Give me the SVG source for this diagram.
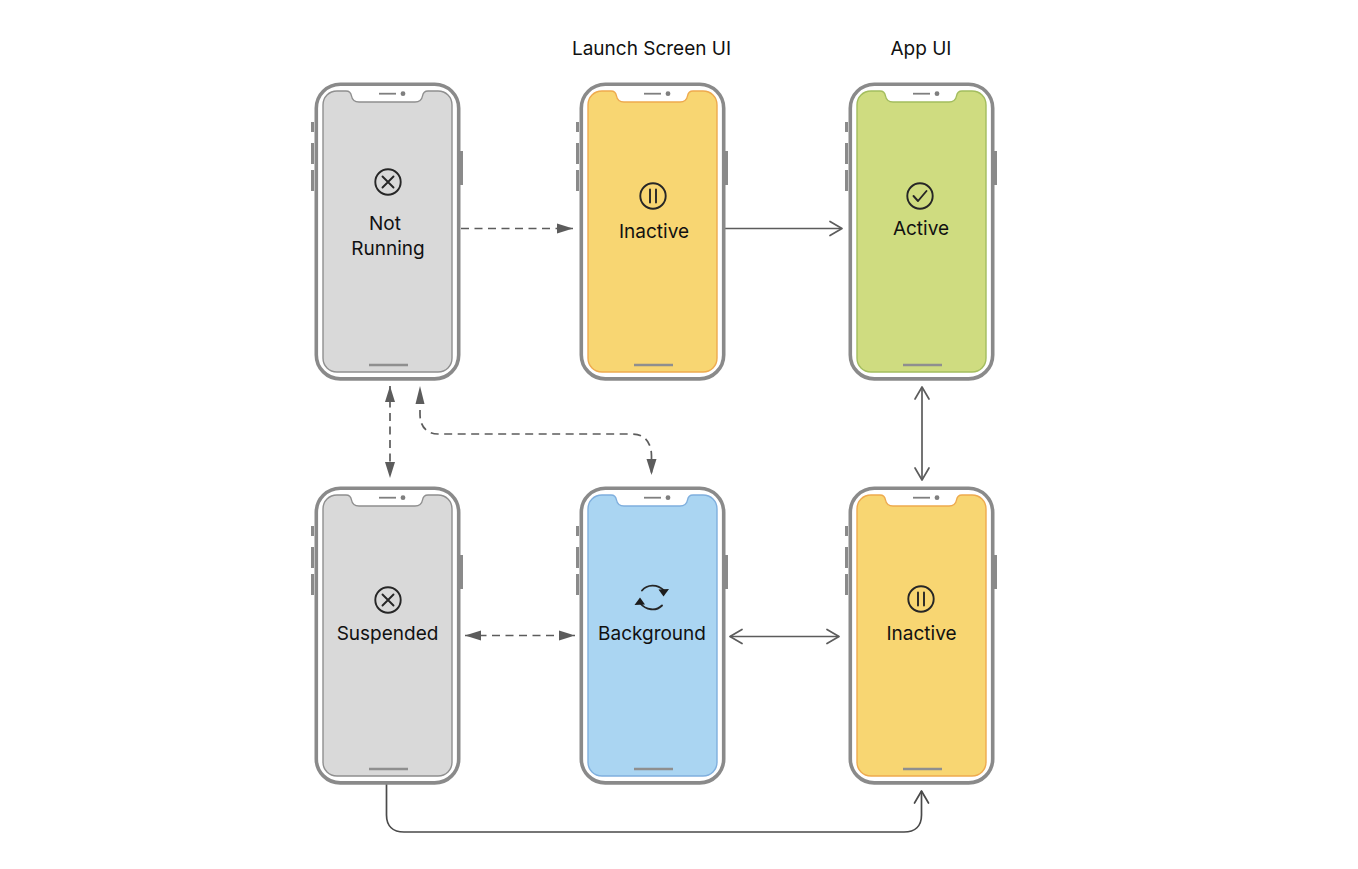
<svg xmlns="http://www.w3.org/2000/svg" xmlns:xlink="http://www.w3.org/1999/xlink" width="1358" height="869" viewBox="0 0 1358 869">
  <style>
    text { font-family: "Inter", "Liberation Sans", sans-serif; font-size: 19px; fill: #111; text-anchor: middle; }
    .frame { fill: #fff; stroke: #8a8a8a; stroke-width: 3.6; }
    .btn { fill: #8a8a8a; }
    .bar { stroke: #8f8f8f; stroke-width: 2.4; fill: none; }
    .speaker { stroke: #7f7f7f; stroke-width: 1.8; fill: none; }
    .cam { fill: #7f7f7f; }
    .gray { fill: #d9d9d9; stroke: #8f8f8f; stroke-width: 1.4; }
    .yellow { fill: #f8d672; stroke: #eeaa4e; stroke-width: 1.4; }
    .green { fill: #cfdc80; stroke: #a3bd5e; stroke-width: 1.4; }
    .blue { fill: #aad5f2; stroke: #7fafde; stroke-width: 1.4; }
    .icon { fill: none; stroke: #262626; stroke-width: 1.9; stroke-linecap: round; stroke-linejoin: round; }
    .solid { fill: none; stroke: #5c5c5c; stroke-width: 1.7; }
    .dashed { fill: none; stroke: #5c5c5c; stroke-width: 1.7; stroke-dasharray: 8 5.5; }
    .open { fill: none; stroke: #5c5c5c; stroke-width: 1.7; stroke-linecap: round; stroke-linejoin: round; }
  </style>
  <defs>
    <marker id="tri" markerUnits="userSpaceOnUse" markerWidth="18" markerHeight="12" refX="16" refY="5" orient="auto-start-reverse" viewBox="0 0 18 10">
      <path d="M0 0L16 5L0 10Z" fill="#5c5c5c"/>
    </marker>
    <g id="body">
      <rect class="btn" x="-4" y="39" width="3" height="10"/>
      <rect class="btn" x="-4" y="60" width="3" height="21"/>
      <rect class="btn" x="-4" y="87" width="3" height="21"/>
      <rect class="btn" x="145" y="68" width="3" height="34"/>
      <rect class="frame" x="1.3" y="1.3" width="142.4" height="294.6" rx="24" ry="24"/>
    </g>
    <path id="screen" d="M22 8H31C35 8 36 10 36.500 13C37.200 17 39 19 44 19H100C105 19 106.800 17 107.500 13C108 10 109 8 113 8H123C131 8 137 14 137 22V275C137 283 131 289 123 289H22C14 289 8 283 8 275V22C8 14 14 8 22 8Z"/>
    <g id="details">
      <path class="speaker" d="M64 10.700H81"/>
      <circle class="cam" cx="88" cy="10.700" r="2.400"/>
      <path class="bar" d="M54 282H93"/>
    </g>
    <g id="icon-x">
      <circle class="icon" cx="0" cy="0" r="12.700"/>
      <path class="icon" d="M-5.500 -5.500L5.500 5.500M5.500 -5.500L-5.500 5.500"/>
    </g>
    <g id="icon-pause">
      <circle class="icon" cx="0" cy="0" r="12.700"/>
      <path class="icon" d="M-3 -6.500V6.500M3 -6.500V6.500"/>
    </g>
  </defs>

  <text x="651.500" y="55">Launch Screen UI</text>
  <text x="921" y="55">App UI</text>

  <g id="connectors">
    <path class="dashed" marker-end="url(#tri)" d="M461 228.500H573"/>
    <path class="solid" d="M725 228.500H841"/>
    <path class="open" d="M830 221.500L842 228.500L830 235.500"/>
    <path class="dashed" marker-start="url(#tri)" marker-end="url(#tri)" d="M390 386V478"/>
    <path class="dashed" marker-end="url(#tri)" d="M420 410V414C420 428 428 434 438 434H632C644 434 651.500 442 651.500 456V475" />
    <path d="M420 386L424.500 404H415.500Z" fill="#5c5c5c"/>
    <path class="solid" d="M922 387V480"/>
    <path class="open" d="M915 399L922 387L929 399M915 468L922 480L929 468"/>
    <path class="dashed" marker-start="url(#tri)" marker-end="url(#tri)" d="M465 635.500H575"/>
    <path class="solid" d="M730 636.500H839"/>
    <path class="open" d="M742 629.500L730 636.500L742 643.500M827 629.500L839 636.500L827 643.500"/>
    <path class="solid" style="stroke:#4a4a4a" d="M386.500 783V815C386.500 826 393 832 404 832H904C915 832 921.500 826 921.500 815V791"/>
    <path class="open" style="stroke:#4a4a4a" d="M914.500 803L921.500 791L928.500 803"/>
  </g>

  <g id="not-running" transform="translate(315 83)">
    <use xlink:href="#body" href="#body"/>
    <use xlink:href="#screen" href="#screen" class="gray"/>
    <use xlink:href="#details" href="#details"/>
    <use xlink:href="#icon-x" href="#icon-x" x="73" y="99"/>
    <text x="70" y="147">Not</text>
    <text x="73" y="171.500">Running</text>
  </g>

  <g id="launch-inactive" transform="translate(580 83)">
    <use xlink:href="#body" href="#body"/>
    <use xlink:href="#screen" href="#screen" class="yellow"/>
    <use xlink:href="#details" href="#details"/>
    <use xlink:href="#icon-pause" href="#icon-pause" x="73" y="113"/>
    <text x="74" y="155">Inactive</text>
  </g>

  <g id="active" transform="translate(849 83)">
    <use xlink:href="#body" href="#body"/>
    <use xlink:href="#screen" href="#screen" class="green"/>
    <use xlink:href="#details" href="#details"/>
    <circle class="icon" cx="71" cy="113" r="12.700"/>
    <path class="icon" d="M64.500 113L69 118L77.500 108"/>
    <text x="72" y="152">Active</text>
  </g>

  <g id="suspended" transform="translate(315 487)">
    <use xlink:href="#body" href="#body"/>
    <use xlink:href="#screen" href="#screen" class="gray"/>
    <use xlink:href="#details" href="#details"/>
    <use xlink:href="#icon-x" href="#icon-x" x="73" y="113"/>
    <text x="72.500" y="153">Suspended</text>
  </g>

  <g id="background" transform="translate(580 487)">
    <use xlink:href="#body" href="#body"/>
    <use xlink:href="#screen" href="#screen" class="blue"/>
    <use xlink:href="#details" href="#details"/>
    <path class="icon" d="M62 103.500C67 97.500 77 96.500 84 103.500"/>
    <path class="icon" d="M82 118.500C76 124.500 66 123.500 60 116"/>
    <path d="M83.500 109.500L78.500 102.500L89 102Z" fill="#1c1c1c"/>
    <path d="M60 110.500L65 117.500L54.500 118Z" fill="#1c1c1c"/>
    <text x="72" y="153">Background</text>
  </g>

  <g id="inactive" transform="translate(849 487)">
    <use xlink:href="#body" href="#body"/>
    <use xlink:href="#screen" href="#screen" class="yellow"/>
    <use xlink:href="#details" href="#details"/>
    <use xlink:href="#icon-pause" href="#icon-pause" x="72" y="112"/>
    <text x="72.500" y="153">Inactive</text>
  </g>
</svg>
